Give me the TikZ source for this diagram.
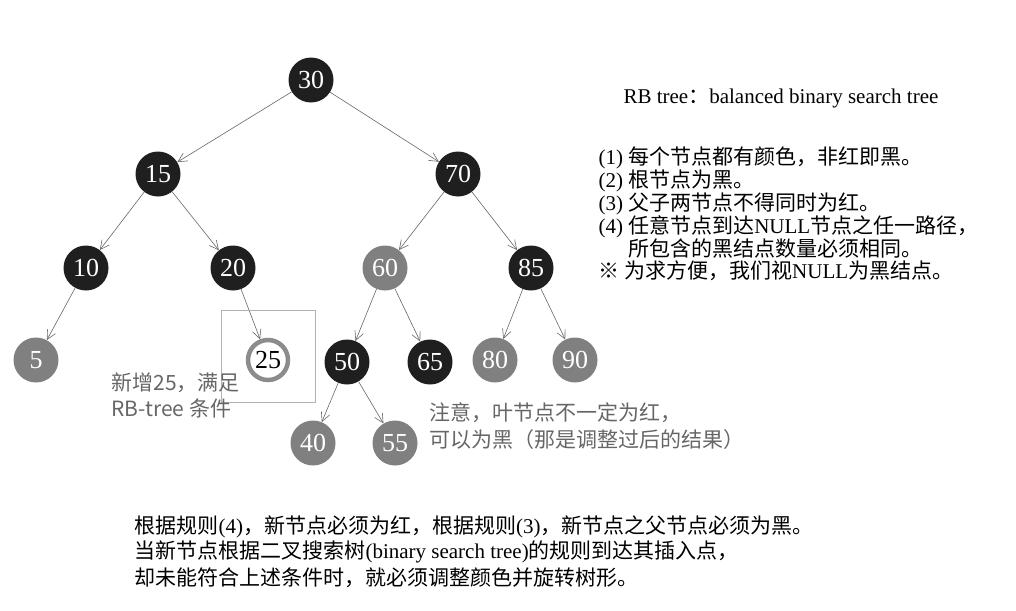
\documentclass[tikz,border=0pt]{standalone}
\usepackage{fontspec}
\setmainfont{Liberation Serif}
\newfontfamily\cjk{Noto Sans CJK SC}
\usetikzlibrary{arrows.meta}
\begin{document}
\begin{tikzpicture}[x=1pt,y=-1pt,
  nd/.style={circle,minimum size=45pt,inner sep=0pt,font=\fontsize{26}{26}\selectfont},
  blk/.style={nd,fill=black!88,text=white},
  rd/.style={nd,fill=black!50,text=white},
  nw/.style={nd,fill=white,draw=black!45,line width=4.5pt,minimum size=40pt,text=black},
  ed/.style={draw=black!60,line width=0.6pt,-{Straight Barb[length=9pt,width=9pt]}},
  gt/.style={anchor=west,text=black!60,font=\cjk\fontsize{21}{21}\selectfont},
  rt/.style={anchor=west,font=\fontsize{21}{21}\selectfont}]
\useasboundingbox (0,0) rectangle (1016,610);
\node[blk] (n30) at (311,80) {30};
\node[blk] (n15) at (158,174) {15};
\node[blk] (n70) at (458,174) {70};
\node[blk] (n10) at (86,268) {10};
\node[blk] (n20) at (233,268) {20};
\node[rd] (n60) at (385,268) {60};
\node[blk] (n85) at (531,268) {85};
\node[rd] (n5) at (36,360) {5};
\node[nw] (n25) at (268,360) {25};
\node[blk] (n50) at (347,362) {50};
\node[blk] (n65) at (430,362) {65};
\node[rd] (n80) at (495,360) {80};
\node[rd] (n90) at (575,360) {90};
\node[rd] (n40) at (313,443) {40};
\node[rd] (n55) at (395,443) {55};
\foreach \a/\b in {30/15,30/70,15/10,15/20,70/60,70/85,10/5,20/25,60/50,60/65,85/80,85/90,50/40,50/55}
  \draw[ed] (n\a) -- (n\b);
\node[draw=black!30,line width=0.6pt,minimum width=94pt,minimum height=92pt] (box) at (268,356) {};
\node[gt] (t1) at (108,383) {新增25，满足};
\node[gt] (t2) at (108,408) {RB-tree 条件};
\node[gt] (t3) at (426,413) {注意，叶节点不一定为红，};
\node[gt] (t4) at (426,440) {可以为黑（那是调整过后的结果）};
\node[rt] (h) at (620,98) {RB tree{\cjk ：}balanced binary search tree};
\node[rt] (r1) at (595,158) {(1) {\cjk 每个节点都有颜色，非红即黑。}};
\node[rt] (r2) at (595,181) {(2) {\cjk 根节点为黑。}};
\node[rt] (r3) at (595,204) {(3) {\cjk 父子两节点不得同时为红。}};
\node[rt] (r4) at (595,227) {(4) {\cjk 任意节点到达}NULL{\cjk 节点之任一路径，}};
\node[rt] (r5) at (625,249) {{\cjk 所包含的黑结点数量必须相同。}};
\node[rt] (r6) at (595,271) {{\cjk ※ 为求方便，我们视}NULL{\cjk 为黑结点。}};
\node[rt] (b1) at (131,527) {{\cjk 根据规则}(4){\cjk ，新节点必须为红，根据规则}(3){\cjk ，新节点之父节点必须为黑。}};
\node[rt] (b2) at (131,552) {{\cjk 当新节点根据二叉搜索树}(binary search tree){\cjk 的规则到达其插入点，}};
\node[rt] (b3) at (131,578) {{\cjk 却未能符合上述条件时，就必须调整颜色并旋转树形。}};
\end{tikzpicture}
\end{document}
